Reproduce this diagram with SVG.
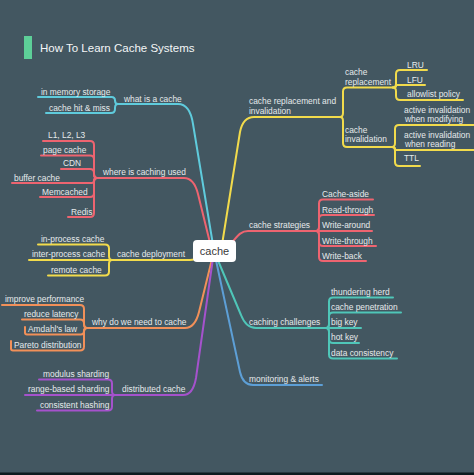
<svg xmlns="http://www.w3.org/2000/svg" width="474" height="475" viewBox="0 0 474 475">
<style>
.t{font-family:"Liberation Sans",Arial,sans-serif;font-size:8.4px;fill:#e6eaec}
.ttl{font-family:"Liberation Sans",Arial,sans-serif;font-size:11.5px;fill:#f4f6f7}
.root{font-family:"Liberation Sans",Arial,sans-serif;font-size:11px;fill:#3a3a3a}
#connectors path{fill:none;stroke-width:2;stroke-linecap:round;stroke-linejoin:round}
.cy{stroke:#5fcbdc}.rd{stroke:#ee6470}.yl{stroke:#f2db4c}.or{stroke:#f29059}.pu{stroke:#a552cc}.te{stroke:#4fc6b8}.bl{stroke:#5d9fd6}
</style>
<rect x="0" y="0" width="474" height="475" fill="#435761"/>
<rect x="0" y="472.5" width="474" height="3" fill="#0e1b1f"/>
<g id="title">
<rect x="24" y="36" width="8" height="23" fill="#5dcf98"/>
<text class="ttl" x="40" y="51.5">How To Learn Cache Systems</text>
</g>
<g id="connectors">
<!-- main branches -->
<path class="cy" d="M214 251 L193 124 Q190 104 178 104 L118 104"/>
<path class="rd" d="M212 251 L198 194 Q194 178 184 178 L97 178"/>
<path class="yl" d="M214 252 C202 252 200 260 190 260 L112 260"/>
<path class="or" d="M214 251 L199 312 Q195 328 185 328 L87 328"/>
<path class="pu" d="M214 251 L196 378 Q193 395 183 395 L115 395"/>
<path class="yl" d="M221 251 L240 132 Q243 117 254 117 L340 117"/>
<path class="rd" d="M220 251 C234 246 236 231 248 231 L316 231"/>
<path class="te" d="M214 251 L241 315 Q246 328 256 328 L326 328"/>
<path class="bl" d="M214 251 L240 372 Q243 385 253 385 L322 385"/>
<!-- what is a cache -->
<path class="cy" d="M118 104 Q115 104 115 100.5 Q115 97 111.5 97 L38 97"/>
<path class="cy" d="M118 104 Q115 104 115 108 L115 109 Q115 113 111 113 L46 113"/>
<!-- where is caching used -->
<path class="rd" d="M97 178 Q94 178 94 174 L94 145 Q94 141 90 141 L43 141"/>
<path class="rd" d="M97 178 Q94 178 94 174 L94 159.5 Q94 155.5 90 155.5 L41 155.5"/>
<path class="rd" d="M97 178 Q94 178 94 174 L94 173 Q94 169 90 169 L61 169"/>
<path class="rd" d="M97 178 Q94 178 94 180.5 Q94 183 91.5 183 L12 183"/>
<path class="rd" d="M97 178 Q94 178 94 182 L94 193 Q94 197 90 197 L40 197"/>
<path class="rd" d="M97 178 Q94 178 94 182 L94 213 Q94 217 90 217 L68 217"/>
<!-- cache deployment -->
<path class="yl" d="M112 260 Q109 260 109 256 L109 248.5 Q109 244.5 105 244.5 L38 244.5"/>
<path class="yl" d="M112 260 L29 260"/>
<path class="yl" d="M112 260 Q109 260 109 264 L109 271.5 Q109 275.5 105 275.5 L48 275.5"/>
<!-- why do we need to cache -->
<path class="or" d="M87 328 Q84 328 84 324 L84 309 Q84 305 80 305 L2 305"/>
<path class="or" d="M87 328 Q84 328 84 324 L84 323.5 Q84 319.5 80 319.5 L22 319.5"/>
<path class="or" d="M87 328 Q84 328 84 331.2 Q84 334.5 80.7 334.5 L27 334.5 Q25 334.5 25 332.5 L25 327"/>
<path class="or" d="M87 328 Q84 328 84 332 L84 346.5 Q84 350.5 80 350.5 L13 350.5 Q11 350.5 11 348.5 L11 341"/>
<!-- distributed cache -->
<path class="pu" d="M115 395 Q112 395 112 391 L112 383.5 Q112 379.5 108 379.5 L39 379.5"/>
<path class="pu" d="M115 395 L25 395"/>
<path class="pu" d="M115 395 Q112 395 112 399 L112 406.5 Q112 410.5 108 410.5 L37 410.5"/>
<!-- cache replacement and invalidation -->
<path class="yl" d="M340 117 Q343 117 343 113 L343 91.5 Q343 87.5 347 87.5 L393 87.5"/>
<path class="yl" d="M340 117 Q343 117 343 121 L343 143 Q343 147 347 147 L392 147"/>
<path class="yl" d="M393 87.5 Q396 87.5 396 83.5 L396 74 Q396 70 400 70 L427 70"/>
<path class="yl" d="M393 87.5 Q396 87.5 396 86.2 Q396 85 397.2 85 L425 85"/>
<path class="yl" d="M393 87.5 Q396 87.5 396 91.5 L396 96 Q396 100 400 100 L463 100"/>
<path class="yl" d="M392 147 Q395 147 395 143 L395 129 Q395 125 399 125 L474 125"/>
<path class="yl" d="M392 147 Q395 147 395 148.5 Q395 150 396.5 150 L474 150"/>
<path class="yl" d="M392 147 Q395 147 395 151 L395 162 Q395 166 399 166 L420 166"/>
<!-- cache strategies -->
<path class="rd" d="M316 231 Q319 231 319 227 L319 203.5 Q319 199.5 323 199.5 L373 199.5"/>
<path class="rd" d="M316 231 Q319 231 319 227 L319 219 Q319 215 323 215 L374 215"/>
<path class="rd" d="M316 231 L372 231"/>
<path class="rd" d="M316 231 Q319 231 319 235 L319 242 Q319 246 323 246 L376 246"/>
<path class="rd" d="M316 231 Q319 231 319 235 L319 257 Q319 261 323 261 L366 261"/>
<!-- caching challenges -->
<path class="te" d="M326 328 Q329 328 329 324 L329 301.5 Q329 297.5 333 297.5 L393 297.5"/>
<path class="te" d="M326 328 Q329 328 329 324 L329 316.5 Q329 312.5 333 312.5 L401 312.5"/>
<path class="te" d="M326 328 L361 328"/>
<path class="te" d="M326 328 Q329 328 329 332 L329 339 Q329 343 333 343 L359 343"/>
<path class="te" d="M326 328 Q329 328 329 332 L329 354.5 Q329 358.5 333 358.5 L397 358.5"/>
</g>
<g id="root">
<rect x="193" y="240" width="43" height="22" rx="4" fill="#ffffff"/>
<text class="root" x="214.5" y="255" text-anchor="middle">cache</text>
</g>
<g id="what-is-a-cache"><text class="t" x="124" y="101.5">what is a cache</text></g>
<g id="in-memory-storage"><text class="t" x="41" y="94.5">in memory storage</text></g>
<g id="cache-hit-miss"><text class="t" x="49" y="110.5">cache hit &amp; miss</text></g>
<g id="where-is-caching-used"><text class="t" x="103" y="174.5">where is caching used</text></g>
<g id="l1-l2-l3"><text class="t" x="48" y="138">L1, L2, L3</text></g>
<g id="page-cache"><text class="t" x="43" y="152.5">page cache</text></g>
<g id="cdn"><text class="t" x="63" y="166">CDN</text></g>
<g id="buffer-cache"><text class="t" x="14" y="180.5">buffer cache</text></g>
<g id="memcached"><text class="t" x="42" y="194.5">Memcached</text></g>
<g id="redis"><text class="t" x="71" y="214.5">Redis</text></g>
<g id="cache-deployment"><text class="t" x="117" y="257">cache deployment</text></g>
<g id="in-process-cache"><text class="t" x="41" y="241.5">in-process cache</text></g>
<g id="inter-process-cache"><text class="t" x="32" y="257">inter-process cache</text></g>
<g id="remote-cache"><text class="t" x="51" y="272.5">remote cache</text></g>
<g id="why-cache"><text class="t" x="92" y="325">why do we need to cache</text></g>
<g id="improve-performance"><text class="t" x="5" y="302">improve performance</text></g>
<g id="reduce-latency"><text class="t" x="24" y="316.5">reduce latency</text></g>
<g id="amdahl"><text class="t" x="28" y="331.5">Amdahl's law</text></g>
<g id="pareto"><text class="t" x="14" y="347.5">Pareto distribution</text></g>
<g id="distributed-cache"><text class="t" x="122" y="392">distributed cache</text></g>
<g id="modulus-sharding"><text class="t" x="43" y="376.5">modulus sharding</text></g>
<g id="range-based-sharding"><text class="t" x="28" y="392">range-based sharding</text></g>
<g id="consistent-hashing"><text class="t" x="40" y="407.5">consistent hashing</text></g>
<g id="replacement-invalidation"><text class="t" x="249" y="104">cache replacement and</text><text class="t" x="249" y="113.5">invalidation</text></g>
<g id="cache-replacement"><text class="t" x="345" y="75">cache</text><text class="t" x="345" y="84.5">replacement</text></g>
<g id="lru"><text class="t" x="407" y="67.5">LRU</text></g>
<g id="lfu"><text class="t" x="407" y="82.5">LFU</text></g>
<g id="allowlist-policy"><text class="t" x="407" y="97">allowlist policy</text></g>
<g id="cache-invalidation"><text class="t" x="345" y="132.5">cache</text><text class="t" x="345" y="142">invalidation</text></g>
<g id="active-modifying"><text class="t" x="404" y="112.5">active invalidation</text><text class="t" x="405" y="122">when modifying</text></g>
<g id="active-reading"><text class="t" x="404" y="137.5">active invalidation</text><text class="t" x="405" y="147">when reading</text></g>
<g id="ttl"><text class="t" x="404" y="161">TTL</text></g>
<g id="cache-strategies"><text class="t" x="249" y="227.5">cache strategies</text></g>
<g id="cache-aside"><text class="t" x="322" y="197">Cache-aside</text></g>
<g id="read-through"><text class="t" x="322" y="212.5">Read-through</text></g>
<g id="write-around"><text class="t" x="322" y="227.5">Write-around</text></g>
<g id="write-through"><text class="t" x="322" y="243.5">Write-through</text></g>
<g id="write-back"><text class="t" x="322" y="258.5">Write-back</text></g>
<g id="caching-challenges"><text class="t" x="249" y="324.5">caching challenges</text></g>
<g id="thundering-herd"><text class="t" x="331" y="294.5">thundering herd</text></g>
<g id="cache-penetration"><text class="t" x="331" y="309.5">cache penetration</text></g>
<g id="big-key"><text class="t" x="331" y="324.5">big key</text></g>
<g id="hot-key"><text class="t" x="331" y="340">hot key</text></g>
<g id="data-consistency"><text class="t" x="331" y="355.5">data consistency</text></g>
<g id="monitoring-alerts"><text class="t" x="249" y="382">monitoring &amp; alerts</text></g>
</svg>
